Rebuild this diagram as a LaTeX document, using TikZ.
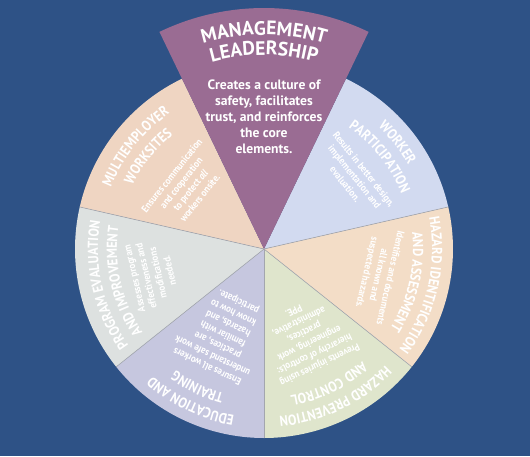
\documentclass[tikz,border=0pt]{standalone}
\usepackage{fontspec}
\setmainfont{PT Sans}
\newfontfamily\ttlfam[FakeStretch=0.87]{PT Sans}
\newfontfamily\bodyfam[FakeStretch=0.88]{PT Sans}
\usetikzlibrary{decorations.text}
\definecolor{bgblue}{HTML}{2E5286}
\definecolor{mgmt}{HTML}{9A6C93}
\definecolor{worker}{HTML}{D2DAF0}
\definecolor{hazid}{HTML}{F3DDC7}
\definecolor{prevent}{HTML}{DFE5CC}
\definecolor{educ}{HTML}{C6C7DF}
\definecolor{program}{HTML}{DDE1E0}
\definecolor{multi}{HTML}{EFD5C2}
\definecolor{sepgray}{HTML}{A3A6AE}
\newcommand\pieslice[4]{\fill[#1] (0,0) -- ({#2}:#4) arc[start angle={#2}, end angle={#3}, radius=#4] -- cycle;}
\newcommand\ttlfont{\ttlfam\bfseries\fontsize{14.5}{14.5}\selectfont}
\newcommand\bigttlfont{\bfseries\fontsize{19.5}{19.5}\selectfont}
\newcommand\arctitle[4]{\path[decorate,decoration={text along path,text align=center,text color=white,text={|#4|#3}}] ({#1+75}:#2) arc[start angle={#1+75}, end angle={#1-75}, radius=#2];}
\tikzset{
  bodytext/.style={text=white, align=center, inner sep=0pt, font=\bodyfam\bfseries\fontsize{10.2}{12}\selectfont},
  mgmttext/.style={text=white, align=center, inner sep=0pt, font=\bfseries\fontsize{13.6}{16}\selectfont},
  sepline/.style={draw=sepgray, line width=0.6pt}
}
\begin{document}
\begin{tikzpicture}[x=1pt,y=1pt]
\fill[bgblue] (-264,-207) rectangle (266,249);
\useasboundingbox (-264,-207) rectangle (266,249);
% sectors
\pieslice{worker}{12.857}{64.286}{189}
\pieslice{hazid}{-38.571}{12.857}{189}
\pieslice{prevent}{-90}{-38.571}{189}
\pieslice{educ}{-141.429}{-90}{189}
\pieslice{program}{-192.857}{-141.429}{189}
\pieslice{multi}{115.714}{167.143}{189}
% separators
\foreach \a in {12.857,-38.571,-90,-141.429,167.143}
  \draw[sepline] (0,0) -- (\a:189);
% management
\pieslice{mgmt}{64.286}{115.714}{241}
% titles
\arctitle{90}{214}{MANAGEMENT}{\bigttlfont}
\arctitle{90}{194}{LEADERSHIP}{\bigttlfont}
\arctitle{38.571}{167}{WORKER}{\ttlfont}
\arctitle{38.571}{148}{PARTICIPATION}{\ttlfont}
\arctitle{-12.857}{168}{HAZARD IDENTIFICATION}{\ttlfont}
\arctitle{-12.857}{149}{AND ASSESSMENT}{\ttlfont}
\arctitle{-64.286}{168}{HAZARD PREVENTION}{\ttlfont}
\arctitle{-64.286}{149}{AND CONTROL}{\ttlfont}
\arctitle{-115.714}{169}{EDUCATION AND}{\ttlfont}
\arctitle{-115.714}{150}{TRAINING}{\ttlfont}
\arctitle{-167.143}{166}{PROGRAM EVALUATION}{\ttlfont}
\arctitle{-167.143}{147}{AND IMPROVEMENT}{\ttlfont}
\arctitle{141.429}{165}{MULTIEMPLOYER}{\ttlfont}
\arctitle{141.429}{146}{WORKSITES}{\ttlfont}
% body texts
\node[mgmttext] (mgmtbody) at (0,132) {Creates a culture of\\safety, facilitates\\trust, and reinforces\\the core\\elements.};
\node[bodytext, rotate=-51.429] (workerbody) at (38.571:116) {Results in better design,\\implementation and\\evaluation.};
\node[bodytext, rotate=-102.857] (hazidbody) at (-12.857:117) {Identifies and documents\\all known and\\suspected hazards.};
\node[bodytext, rotate=-154.286] (preventbody) at (-64.286:99) {Prevents injuries using\\hierarchy of controls:\\engineering, work\\practices,\\administrative,\\PPE.};
\node[bodytext, rotate=154.286] (educbody) at (-115.714:94) {Ensures all workers\\understand safe work\\practices, are\\familiar with\\hazards, and\\know how to\\participate.};
\node[bodytext, rotate=102.857] (programbody) at (-167.143:115) {Assesses program\\effectiveness and\\modifications\\needed.};
\node[bodytext, rotate=51.429] (multibody) at (141.429:100) {Ensures communication\\and cooperation\\to protect \textit{all}\\workers onsite.};
\end{tikzpicture}
\end{document}
